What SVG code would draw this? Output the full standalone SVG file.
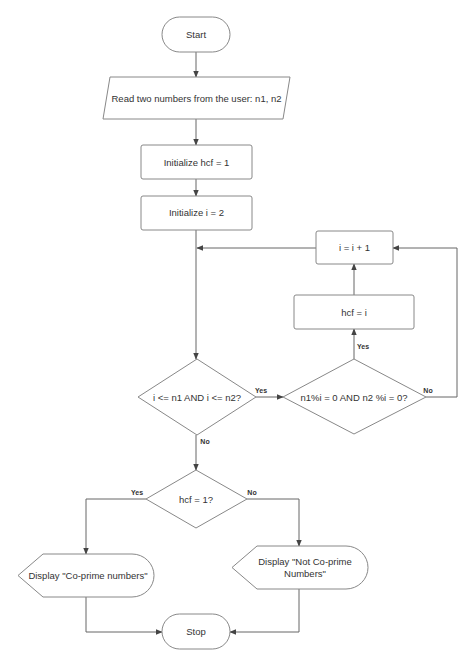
<svg xmlns="http://www.w3.org/2000/svg" width="474" height="666" viewBox="0 0 474 666">
<defs>
<marker id="ah" viewBox="0 0 10 10" refX="9" refY="5" markerWidth="7" markerHeight="7" orient="auto" markerUnits="userSpaceOnUse">
<path d="M0,1 L10,5 L0,9 z" fill="#444"/>
</marker>
<style>
.s{fill:#fff;stroke:#888;stroke-width:1}
.t{font-family:"Liberation Sans",Arial,sans-serif;font-size:9.5px;fill:#333;text-anchor:middle;dominant-baseline:central}
.l{font-family:"Liberation Sans",Arial,sans-serif;font-size:7px;font-weight:bold;fill:#333;text-anchor:middle;dominant-baseline:central}
.c{fill:none;stroke:#666;stroke-width:1}
</style>
</defs>
<rect width="474" height="666" fill="#fff"/>
<g id="connectors">
<path class="c" d="M196,52 V77" marker-end="url(#ah)"/>
<path class="c" d="M196,119 V145" marker-end="url(#ah)"/>
<path class="c" d="M196,179 V196" marker-end="url(#ah)"/>
<path class="c" d="M196,230 V359" marker-end="url(#ah)"/>
<path class="c" d="M316,248 H197" marker-end="url(#ah)"/>
<path class="c" d="M256,397 H283" marker-end="url(#ah)"/>
<path class="c" d="M354,359 V329" marker-end="url(#ah)"/>
<path class="c" d="M354,295 V264" marker-end="url(#ah)"/>
<path class="c" d="M426,397 H457 V248 H393" marker-end="url(#ah)"/>
<path class="c" d="M196,435 V470" marker-end="url(#ah)"/>
<path class="c" d="M146,499 H86 V554" marker-end="url(#ah)"/>
<path class="c" d="M247,499 H299 V546" marker-end="url(#ah)"/>
<path class="c" d="M86,597 V632 H162" marker-end="url(#ah)"/>
<path class="c" d="M299,589 V632 H230" marker-end="url(#ah)"/>
<text class="l" x="261" y="390">Yes</text>
<text class="l" x="363" y="346">Yes</text>
<text class="l" x="428" y="390">No</text>
<text class="l" x="205" y="441">No</text>
<text class="l" x="137" y="492">Yes</text>
<text class="l" x="252" y="492">No</text>
</g>
<g id="start">
<rect class="s" x="162" y="17" width="68" height="35" rx="17.5"/>
<text class="t" x="196" y="34.5">Start</text>
</g>
<g id="read">
<path class="s" d="M110,77 H290 L283,119 H103 Z"/>
<text class="t" x="196.5" y="98">Read two numbers from the user: n1, n2</text>
</g>
<g id="inithcf">
<rect class="s" x="141" y="145" width="111" height="34" rx="2"/>
<text class="t" x="196.5" y="162">Initialize hcf = 1</text>
</g>
<g id="initi">
<rect class="s" x="141" y="196" width="111" height="34" rx="2"/>
<text class="t" x="196.5" y="212">Initialize i = 2</text>
</g>
<g id="inc">
<rect class="s" x="316" y="231" width="77" height="33" rx="2"/>
<text class="t" x="354.5" y="247.5">i = i + 1</text>
</g>
<g id="hcfi">
<rect class="s" x="294" y="295" width="120" height="34" rx="2"/>
<text class="t" x="354" y="312">hcf = i</text>
</g>
<g id="cond1">
<path class="s" d="M197,359 L256,397 L197,435 L138,397 Z"/>
<text class="t" x="197" y="397">i &lt;= n1 AND i &lt;= n2?</text>
</g>
<g id="cond2">
<path class="s" d="M354,359 L426,397 L354,434 L283,397 Z"/>
<text class="t" x="354" y="397">n1%i = 0 AND n2 %i = 0?</text>
</g>
<g id="cond3">
<path class="s" d="M196,470 L247,499 L196,528 L146,499 Z"/>
<text class="t" x="196" y="499">hcf = 1?</text>
</g>
<g id="disp1">
<path class="s" d="M43,554 H132 A22,21.5 0 0 1 132,597 H43 L18,575.5 Z"/>
<text class="t" x="88" y="575.5">Display "Co-prime numbers"</text>
</g>
<g id="disp2">
<path class="s" d="M257,546 H346 A22,21.5 0 0 1 346,589 H257 L232,567.5 Z"/>
<text class="t" x="305" y="561.5">Display "Not Co-prime</text>
<text class="t" x="305" y="573">Numbers"</text>
</g>
<g id="stop">
<rect class="s" x="162" y="614" width="68" height="35" rx="17.5"/>
<text class="t" x="196" y="631.5">Stop</text>
</g>
</svg>
